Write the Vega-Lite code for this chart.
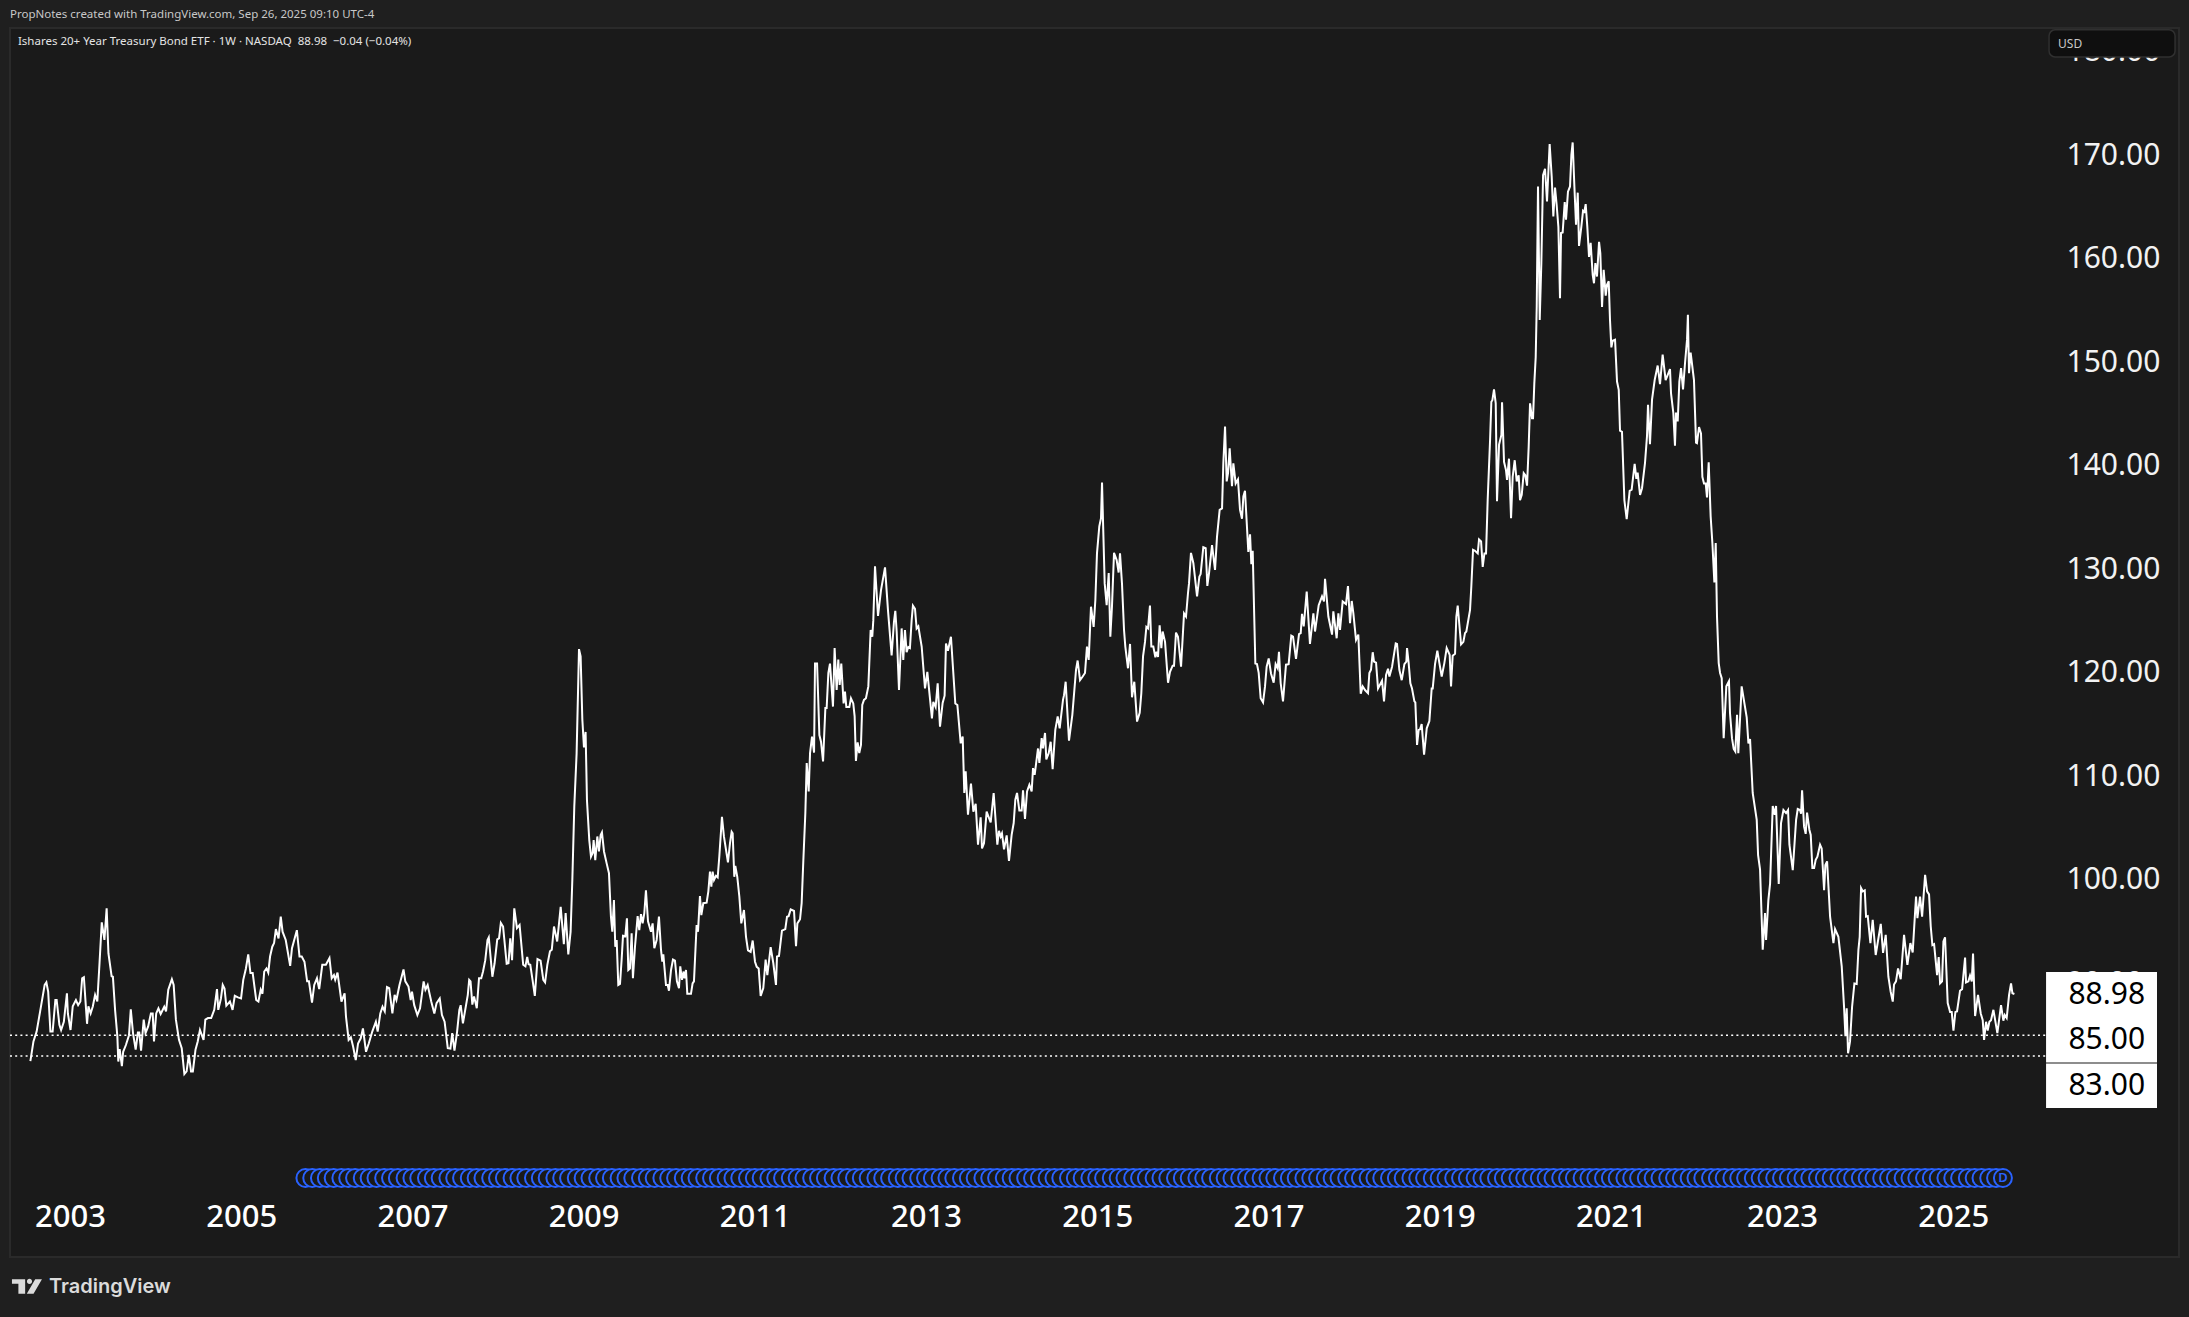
{
"$schema":"https://vega.github.io/schema/vega-lite/v6.json",
"width":2169,"height":1229,
"autosize":{"type":"none"},
"padding":{"left":10,"top":28,"right":10,"bottom":60},
"background":"#1f1f1f",
"view":{"fill":"#1a1a1a","stroke":"#2a2a2a","strokeWidth":2},
"config":{"font":"Noto Sans"},
"datasets":{
"price":[
{"year":2002.537,"price":82.49},{"year":2002.573,"price":84.4},{"year":2002.61,"price":85.35},{"year":2002.651,"price":87.3},{"year":2002.704,"price":89.86},{"year":2002.724,"price":90.1},{"year":2002.745,"price":89.2},{"year":2002.771,"price":85.35},{"year":2002.797,"price":85.35},{"year":2002.829,"price":88.4},{"year":2002.844,"price":88.4},{"year":2002.876,"price":86.0},{"year":2002.896,"price":85.5},{"year":2002.928,"price":86.3},{"year":2002.964,"price":89.05},{"year":2002.975,"price":87.1},
{"year":2003.006,"price":85.5},{"year":2003.032,"price":87.8},{"year":2003.069,"price":88.4},{"year":2003.095,"price":87.9},{"year":2003.121,"price":88.25},{"year":2003.142,"price":90.5},{"year":2003.162,"price":90.6},{"year":2003.199,"price":86.1},{"year":2003.215,"price":87.8},{"year":2003.241,"price":87.1},{"year":2003.267,"price":87.8},{"year":2003.293,"price":88.9},{"year":2003.319,"price":88.25},{"year":2003.345,"price":92.0},{"year":2003.371,"price":95.9},{"year":2003.402,"price":94.2},{"year":2003.428,"price":97.25},{"year":2003.449,"price":92.9},{"year":2003.486,"price":90.7},{"year":2003.501,"price":90.65},{"year":2003.527,"price":87.4},{"year":2003.553,"price":84.9},{"year":2003.564,"price":82.45},{"year":2003.58,"price":83.65},{"year":2003.606,"price":82.0},{"year":2003.621,"price":83.4},{"year":2003.653,"price":84.05},{"year":2003.689,"price":85.0},{"year":2003.71,"price":87.5},{"year":2003.736,"price":85.2},{"year":2003.767,"price":83.6},{"year":2003.793,"price":85.25},{"year":2003.809,"price":85.25},{"year":2003.83,"price":83.5},{"year":2003.861,"price":86.5},{"year":2003.882,"price":85.2},{"year":2003.913,"price":85.85},{"year":2003.945,"price":87.1},{"year":2003.966,"price":87.1},{"year":2003.981,"price":84.4},
{"year":2004.007,"price":87.1},{"year":2004.033,"price":87.6},{"year":2004.059,"price":87.05},{"year":2004.101,"price":87.75},{"year":2004.122,"price":87.3},{"year":2004.148,"price":89.4},{"year":2004.19,"price":90.4},{"year":2004.211,"price":89.85},{"year":2004.237,"price":86.5},{"year":2004.273,"price":84.55},{"year":2004.305,"price":83.75},{"year":2004.336,"price":81.25},{"year":2004.362,"price":81.5},{"year":2004.388,"price":83.1},{"year":2004.414,"price":81.5},{"year":2004.435,"price":81.5},{"year":2004.466,"price":83.6},{"year":2004.492,"price":84.4},{"year":2004.518,"price":85.5},{"year":2004.56,"price":84.55},{"year":2004.581,"price":86.5},{"year":2004.612,"price":86.65},{"year":2004.649,"price":86.65},{"year":2004.685,"price":87.45},{"year":2004.717,"price":89.45},{"year":2004.732,"price":87.45},{"year":2004.763,"price":88.55},{"year":2004.784,"price":89.85},{"year":2004.805,"price":89.5},{"year":2004.826,"price":87.85},{"year":2004.868,"price":88.25},{"year":2004.899,"price":87.45},{"year":2004.925,"price":88.8},{"year":2004.962,"price":88.65},{"year":2004.998,"price":88.55},
{"year":2005.024,"price":90.35},{"year":2005.055,"price":91.45},{"year":2005.082,"price":92.8},{"year":2005.108,"price":91.0},{"year":2005.134,"price":91.0},{"year":2005.175,"price":88.4},{"year":2005.201,"price":88.25},{"year":2005.228,"price":89.4},{"year":2005.248,"price":89.0},{"year":2005.269,"price":91.15},{"year":2005.295,"price":91.45},{"year":2005.316,"price":91.05},{"year":2005.337,"price":92.6},{"year":2005.363,"price":93.55},{"year":2005.384,"price":93.9},{"year":2005.405,"price":95.25},{"year":2005.436,"price":94.35},{"year":2005.462,"price":96.45},{"year":2005.483,"price":95.0},{"year":2005.52,"price":94.2},{"year":2005.572,"price":91.7},{"year":2005.593,"price":93.4},{"year":2005.624,"price":94.35},{"year":2005.65,"price":95.15},{"year":2005.681,"price":92.6},{"year":2005.707,"price":92.6},{"year":2005.739,"price":92.1},{"year":2005.77,"price":90.2},{"year":2005.791,"price":90.2},{"year":2005.827,"price":88.15},{"year":2005.853,"price":89.85},{"year":2005.885,"price":90.5},{"year":2005.911,"price":89.45},{"year":2005.947,"price":91.8},{"year":2005.989,"price":91.8},
{"year":2006.031,"price":92.45},{"year":2006.057,"price":90.5},{"year":2006.083,"price":90.8},{"year":2006.098,"price":90.35},{"year":2006.125,"price":91.05},{"year":2006.171,"price":88.25},{"year":2006.208,"price":89.05},{"year":2006.224,"price":86.8},{"year":2006.255,"price":84.55},{"year":2006.281,"price":84.8},{"year":2006.307,"price":83.9},{"year":2006.338,"price":82.6},{"year":2006.365,"price":84.2},{"year":2006.396,"price":84.7},{"year":2006.422,"price":85.65},{"year":2006.458,"price":83.4},{"year":2006.49,"price":84.2},{"year":2006.531,"price":85.35},{"year":2006.573,"price":86.3},{"year":2006.594,"price":85.35},{"year":2006.625,"price":87.1},{"year":2006.651,"price":87.75},{"year":2006.677,"price":87.3},{"year":2006.703,"price":89.65},{"year":2006.729,"price":89.55},{"year":2006.766,"price":87.1},{"year":2006.792,"price":88.9},{"year":2006.813,"price":88.4},{"year":2006.849,"price":89.85},{"year":2006.896,"price":91.35},{"year":2006.917,"price":90.2},{"year":2006.954,"price":89.7},{"year":2006.98,"price":88.4},{"year":2006.995,"price":89.2},
{"year":2007.021,"price":87.9},{"year":2007.058,"price":86.95},{"year":2007.089,"price":87.6},{"year":2007.131,"price":90.2},{"year":2007.152,"price":89.4},{"year":2007.178,"price":89.85},{"year":2007.22,"price":88.25},{"year":2007.256,"price":87.1},{"year":2007.282,"price":88.1},{"year":2007.319,"price":88.55},{"year":2007.345,"price":86.95},{"year":2007.376,"price":86.3},{"year":2007.413,"price":83.75},{"year":2007.444,"price":83.7},{"year":2007.465,"price":85.2},{"year":2007.491,"price":83.5},{"year":2007.522,"price":85.35},{"year":2007.548,"price":87.45},{"year":2007.564,"price":87.9},{"year":2007.59,"price":86.15},{"year":2007.647,"price":88.9},{"year":2007.663,"price":90.35},{"year":2007.679,"price":90.2},{"year":2007.7,"price":87.95},{"year":2007.72,"price":88.75},{"year":2007.752,"price":87.6},{"year":2007.778,"price":90.5},{"year":2007.804,"price":90.5},{"year":2007.825,"price":91.15},{"year":2007.851,"price":92.25},{"year":2007.877,"price":94.2},{"year":2007.892,"price":94.45},{"year":2007.934,"price":90.65},{"year":2007.96,"price":91.95},{"year":2007.991,"price":94.25},
{"year":2008.012,"price":94.35},{"year":2008.033,"price":95.85},{"year":2008.059,"price":95.5},{"year":2008.101,"price":91.9},{"year":2008.122,"price":91.95},{"year":2008.143,"price":94.35},{"year":2008.164,"price":92.25},{"year":2008.19,"price":97.25},{"year":2008.221,"price":95.35},{"year":2008.252,"price":95.65},{"year":2008.294,"price":91.8},{"year":2008.32,"price":91.65},{"year":2008.341,"price":92.55},{"year":2008.357,"price":91.85},{"year":2008.377,"price":91.8},{"year":2008.404,"price":90.3},{"year":2008.43,"price":88.8},{"year":2008.461,"price":92.35},{"year":2008.497,"price":92.2},{"year":2008.529,"price":90.35},{"year":2008.55,"price":90.1},{"year":2008.576,"price":91.8},{"year":2008.607,"price":93.1},{"year":2008.628,"price":93.25},{"year":2008.654,"price":95.5},{"year":2008.691,"price":94.05},{"year":2008.732,"price":97.4},{"year":2008.769,"price":93.8},{"year":2008.79,"price":96.8},{"year":2008.821,"price":92.8},{"year":2008.848,"price":95.0},{"year":2008.868,"price":100.0},{"year":2008.891,"price":107.1},{"year":2008.918,"price":112.2},{"year":2008.946,"price":122.3},{"year":2008.965,"price":121.6},{"year":2008.985,"price":115.5},
{"year":2009.004,"price":112.8},{"year":2009.023,"price":114.3},{"year":2009.039,"price":107.7},{"year":2009.066,"price":103.85},{"year":2009.086,"price":102.25},{"year":2009.105,"price":102.6},{"year":2009.117,"price":103.85},{"year":2009.136,"price":101.9},{"year":2009.16,"price":104.2},{"year":2009.179,"price":102.75},{"year":2009.199,"price":104.35},{"year":2009.214,"price":104.6},{"year":2009.238,"price":102.75},{"year":2009.269,"price":101.6},{"year":2009.296,"price":100.65},{"year":2009.319,"price":96.45},{"year":2009.335,"price":95.0},{"year":2009.354,"price":98.05},{"year":2009.37,"price":93.55},{"year":2009.386,"price":94.2},{"year":2009.405,"price":89.85},{"year":2009.425,"price":89.95},{"year":2009.444,"price":92.3},{"year":2009.46,"price":94.6},{"year":2009.487,"price":94.55},{"year":2009.506,"price":96.3},{"year":2009.522,"price":91.3},{"year":2009.541,"price":91.45},{"year":2009.561,"price":94.85},{"year":2009.576,"price":90.5},{"year":2009.6,"price":93.55},{"year":2009.631,"price":96.5},{"year":2009.65,"price":95.15},{"year":2009.67,"price":96.7},{"year":2009.689,"price":95.8},{"year":2009.709,"price":96.8},{"year":2009.728,"price":99.0},{"year":2009.752,"price":96.0},{"year":2009.787,"price":95.0},{"year":2009.806,"price":95.8},{"year":2009.826,"price":93.4},{"year":2009.853,"price":94.2},{"year":2009.88,"price":96.45},{"year":2009.904,"price":93.25},{"year":2009.919,"price":92.1},{"year":2009.931,"price":92.8},{"year":2009.962,"price":89.85},{"year":2009.982,"price":89.85},{"year":2009.997,"price":89.3},
{"year":2010.021,"price":91.3},{"year":2010.044,"price":92.3},{"year":2010.067,"price":92.2},{"year":2010.09,"price":90.2},{"year":2010.114,"price":89.55},{"year":2010.129,"price":91.65},{"year":2010.149,"price":90.35},{"year":2010.168,"price":91.15},{"year":2010.18,"price":90.5},{"year":2010.196,"price":91.3},{"year":2010.211,"price":89.0},{"year":2010.254,"price":89.0},{"year":2010.273,"price":90.0},{"year":2010.289,"price":90.2},{"year":2010.32,"price":95.65},{"year":2010.336,"price":95.0},{"year":2010.359,"price":98.45},{"year":2010.375,"price":96.6},{"year":2010.398,"price":97.75},{"year":2010.437,"price":97.8},{"year":2010.457,"price":98.9},{"year":2010.476,"price":100.8},{"year":2010.492,"price":99.35},{"year":2010.507,"price":100.8},{"year":2010.523,"price":100.0},{"year":2010.546,"price":100.4},{"year":2010.566,"price":100.25},{"year":2010.585,"price":102.25},{"year":2010.616,"price":106.1},{"year":2010.639,"price":104.2},{"year":2010.686,"price":101.7},{"year":2010.71,"price":103.55},{"year":2010.729,"price":104.65},{"year":2010.741,"price":104.5},{"year":2010.76,"price":100.3},{"year":2010.772,"price":101.35},{"year":2010.795,"price":100.3},{"year":2010.819,"price":98.4},{"year":2010.842,"price":95.8},{"year":2010.873,"price":97.1},{"year":2010.897,"price":94.5},{"year":2010.92,"price":93.2},{"year":2010.951,"price":93.05},{"year":2010.975,"price":94.15},
{"year":2011.002,"price":92.1},{"year":2011.022,"price":91.6},{"year":2011.045,"price":91.45},{"year":2011.068,"price":88.8},{"year":2011.099,"price":89.55},{"year":2011.126,"price":92.3},{"year":2011.146,"price":90.8},{"year":2011.185,"price":93.5},{"year":2011.216,"price":91.95},{"year":2011.247,"price":89.85},{"year":2011.259,"price":92.6},{"year":2011.282,"price":92.65},{"year":2011.317,"price":95.1},{"year":2011.356,"price":95.25},{"year":2011.376,"price":96.45},{"year":2011.395,"price":96.5},{"year":2011.419,"price":97.15},{"year":2011.458,"price":97.0},{"year":2011.481,"price":93.6},{"year":2011.497,"price":95.8},{"year":2011.528,"price":96.2},{"year":2011.547,"price":97.75},{"year":2011.567,"price":101.95},{"year":2011.59,"price":106.45},{"year":2011.606,"price":111.3},{"year":2011.629,"price":108.55},{"year":2011.645,"price":112.25},{"year":2011.668,"price":113.85},{"year":2011.692,"price":112.3},{"year":2011.703,"price":120.9},{"year":2011.727,"price":120.9},{"year":2011.754,"price":114.0},{"year":2011.773,"price":113.35},{"year":2011.797,"price":111.45},{"year":2011.824,"price":116.6},{"year":2011.839,"price":116.6},{"year":2011.859,"price":120.0},{"year":2011.878,"price":120.9},{"year":2011.913,"price":116.75},{"year":2011.932,"price":122.4},{"year":2011.956,"price":118.35},{"year":2011.975,"price":121.3},{"year":2011.991,"price":118.85},
{"year":2012.01,"price":120.9},{"year":2012.037,"price":117.05},{"year":2012.053,"price":118.2},{"year":2012.069,"price":116.7},{"year":2012.104,"price":116.7},{"year":2012.123,"price":117.55},{"year":2012.15,"price":117.05},{"year":2012.166,"price":115.8},{"year":2012.181,"price":111.5},{"year":2012.201,"price":113.3},{"year":2012.22,"price":112.25},{"year":2012.24,"price":113.05},{"year":2012.255,"price":116.9},{"year":2012.275,"price":117.4},{"year":2012.298,"price":117.55},{"year":2012.326,"price":118.7},{"year":2012.353,"price":124.15},{"year":2012.372,"price":123.5},{"year":2012.384,"price":125.1},{"year":2012.404,"price":130.3},{"year":2012.439,"price":125.5},{"year":2012.474,"price":128.0},{"year":2012.521,"price":130.2},{"year":2012.556,"price":126.0},{"year":2012.598,"price":121.7},{"year":2012.625,"price":124.9},{"year":2012.641,"price":126.0},{"year":2012.657,"price":124.0},{"year":2012.684,"price":118.35},{"year":2012.715,"price":124.3},{"year":2012.734,"price":121.25},{"year":2012.754,"price":124.15},{"year":2012.773,"price":122.0},{"year":2012.793,"price":122.5},{"year":2012.812,"price":122.4},{"year":2012.832,"price":125.1},{"year":2012.847,"price":126.5},{"year":2012.871,"price":126.2},{"year":2012.89,"price":124.3},{"year":2012.91,"price":124.5},{"year":2012.949,"price":122.55},{"year":2012.988,"price":118.5},
{"year":2013.015,"price":120.1},{"year":2013.069,"price":115.6},{"year":2013.085,"price":117.2},{"year":2013.112,"price":116.7},{"year":2013.136,"price":119.0},{"year":2013.163,"price":114.8},{"year":2013.194,"price":117.1},{"year":2013.217,"price":117.8},{"year":2013.233,"price":122.85},{"year":2013.256,"price":122.15},{"year":2013.291,"price":123.5},{"year":2013.342,"price":117.05},{"year":2013.366,"price":116.9},{"year":2013.405,"price":113.2},{"year":2013.428,"price":113.85},{"year":2013.447,"price":108.4},{"year":2013.463,"price":110.5},{"year":2013.49,"price":106.3},{"year":2013.525,"price":109.3},{"year":2013.553,"price":106.6},{"year":2013.58,"price":107.35},{"year":2013.607,"price":103.4},{"year":2013.638,"price":106.05},{"year":2013.654,"price":103.05},{"year":2013.677,"price":103.55},{"year":2013.708,"price":106.6},{"year":2013.755,"price":105.55},{"year":2013.79,"price":108.4},{"year":2013.833,"price":103.4},{"year":2013.852,"price":104.75},{"year":2013.872,"price":104.2},{"year":2013.887,"price":104.5},{"year":2013.911,"price":102.95},{"year":2013.942,"price":104.3},{"year":2013.969,"price":101.85},
{"year":2014.0,"price":104.35},{"year":2014.024,"price":105.5},{"year":2014.043,"price":107.75},{"year":2014.063,"price":108.4},{"year":2014.09,"price":106.7},{"year":2014.117,"price":106.7},{"year":2014.133,"price":108.65},{"year":2014.156,"price":105.9},{"year":2014.18,"price":108.55},{"year":2014.207,"price":109.2},{"year":2014.234,"price":108.55},{"year":2014.25,"price":110.8},{"year":2014.269,"price":110.15},{"year":2014.308,"price":112.7},{"year":2014.324,"price":111.3},{"year":2014.351,"price":113.7},{"year":2014.366,"price":112.7},{"year":2014.39,"price":114.2},{"year":2014.405,"price":111.65},{"year":2014.433,"price":112.25},{"year":2014.456,"price":113.35},{"year":2014.479,"price":110.7},{"year":2014.51,"price":114.5},{"year":2014.538,"price":115.8},{"year":2014.561,"price":114.65},{"year":2014.6,"price":117.4},{"year":2014.612,"price":117.85},{"year":2014.631,"price":119.15},{"year":2014.67,"price":113.45},{"year":2014.709,"price":115.95},{"year":2014.752,"price":120.3},{"year":2014.771,"price":121.2},{"year":2014.799,"price":119.3},{"year":2014.83,"price":119.65},{"year":2014.857,"price":120.0},{"year":2014.88,"price":122.55},{"year":2014.9,"price":121.25},{"year":2014.927,"price":126.4},{"year":2014.958,"price":124.45},{"year":2014.978,"price":127.05},{"year":2014.997,"price":131.55},
{"year":2015.024,"price":134.15},{"year":2015.044,"price":134.95},{"year":2015.056,"price":138.4},{"year":2015.067,"price":134.8},{"year":2015.087,"price":128.65},{"year":2015.11,"price":126.55},{"year":2015.134,"price":129.65},{"year":2015.153,"price":123.5},{"year":2015.172,"price":126.4},{"year":2015.196,"price":131.6},{"year":2015.227,"price":130.9},{"year":2015.25,"price":129.7},{"year":2015.266,"price":131.55},{"year":2015.289,"price":128.65},{"year":2015.313,"price":124.15},{"year":2015.328,"price":122.55},{"year":2015.359,"price":120.45},{"year":2015.383,"price":122.8},{"year":2015.406,"price":117.65},{"year":2015.433,"price":119.15},{"year":2015.465,"price":115.3},{"year":2015.496,"price":116.15},{"year":2015.515,"price":118.05},{"year":2015.535,"price":121.6},{"year":2015.558,"price":123.0},{"year":2015.574,"price":124.45},{"year":2015.593,"price":124.3},{"year":2015.616,"price":126.5},{"year":2015.632,"price":122.55},{"year":2015.655,"price":122.55},{"year":2015.679,"price":121.5},{"year":2015.694,"price":122.05},{"year":2015.71,"price":121.55},{"year":2015.729,"price":124.6},{"year":2015.749,"price":122.4},{"year":2015.764,"price":124.0},{"year":2015.792,"price":123.0},{"year":2015.827,"price":119.05},{"year":2015.85,"price":120.1},{"year":2015.881,"price":120.7},{"year":2015.897,"price":120.7},{"year":2015.92,"price":123.9},{"year":2015.943,"price":123.5},{"year":2015.979,"price":120.6},
{"year":2016.014,"price":125.75},{"year":2016.037,"price":125.45},{"year":2016.06,"price":127.7},{"year":2016.072,"price":128.65},{"year":2016.095,"price":131.6},{"year":2016.123,"price":130.6},{"year":2016.166,"price":127.4},{"year":2016.193,"price":129.3},{"year":2016.208,"price":129.55},{"year":2016.239,"price":132.15},{"year":2016.267,"price":132.05},{"year":2016.286,"price":128.4},{"year":2016.306,"price":129.65},{"year":2016.341,"price":132.35},{"year":2016.376,"price":129.95},{"year":2016.399,"price":133.15},{"year":2016.43,"price":135.75},{"year":2016.458,"price":135.9},{"year":2016.473,"price":140.25},{"year":2016.493,"price":143.8},{"year":2016.512,"price":138.5},{"year":2016.528,"price":139.3},{"year":2016.547,"price":141.7},{"year":2016.574,"price":138.05},{"year":2016.59,"price":140.25},{"year":2016.617,"price":138.3},{"year":2016.644,"price":138.7},{"year":2016.668,"price":135.75},{"year":2016.691,"price":134.9},{"year":2016.707,"price":137.05},{"year":2016.726,"price":137.6},{"year":2016.765,"price":131.7},{"year":2016.785,"price":133.4},{"year":2016.8,"price":130.5},{"year":2016.816,"price":131.8},{"year":2016.847,"price":120.9},{"year":2016.866,"price":120.85},{"year":2016.886,"price":120.0},{"year":2016.909,"price":117.55},{"year":2016.937,"price":117.15},{"year":2016.96,"price":118.7},{"year":2016.979,"price":120.6},
{"year":2017.003,"price":121.4},{"year":2017.03,"price":119.95},{"year":2017.061,"price":119.05},{"year":2017.084,"price":120.85},{"year":2017.108,"price":120.45},{"year":2017.123,"price":122.05},{"year":2017.143,"price":119.0},{"year":2017.17,"price":117.25},{"year":2017.205,"price":120.8},{"year":2017.236,"price":120.85},{"year":2017.267,"price":123.6},{"year":2017.287,"price":123.5},{"year":2017.322,"price":121.35},{"year":2017.357,"price":123.75},{"year":2017.377,"price":123.85},{"year":2017.392,"price":125.7},{"year":2017.412,"price":124.5},{"year":2017.447,"price":127.85},{"year":2017.485,"price":122.8},{"year":2017.525,"price":125.75},{"year":2017.544,"price":124.0},{"year":2017.587,"price":126.55},{"year":2017.626,"price":127.4},{"year":2017.649,"price":126.9},{"year":2017.661,"price":129.1},{"year":2017.7,"price":125.45},{"year":2017.743,"price":123.7},{"year":2017.758,"price":125.95},{"year":2017.797,"price":123.35},{"year":2017.817,"price":125.75},{"year":2017.836,"price":124.15},{"year":2017.867,"price":126.9},{"year":2017.906,"price":126.65},{"year":2017.929,"price":128.4},{"year":2017.953,"price":124.8},{"year":2017.973,"price":126.95},{"year":2017.992,"price":125.75},
{"year":2018.023,"price":123.2},{"year":2018.05,"price":123.7},{"year":2018.078,"price":118.0},{"year":2018.101,"price":118.7},{"year":2018.128,"price":118.35},{"year":2018.163,"price":118.05},{"year":2018.179,"price":120.0},{"year":2018.198,"price":120.3},{"year":2018.218,"price":122.0},{"year":2018.233,"price":121.1},{"year":2018.257,"price":121.0},{"year":2018.28,"price":118.5},{"year":2018.327,"price":119.25},{"year":2018.35,"price":117.25},{"year":2018.374,"price":119.8},{"year":2018.397,"price":120.4},{"year":2018.413,"price":119.65},{"year":2018.444,"price":120.6},{"year":2018.487,"price":122.85},{"year":2018.502,"price":122.8},{"year":2018.529,"price":120.3},{"year":2018.557,"price":119.3},{"year":2018.588,"price":120.85},{"year":2018.611,"price":121.1},{"year":2018.619,"price":122.4},{"year":2018.638,"price":120.95},{"year":2018.658,"price":119.0},{"year":2018.677,"price":118.5},{"year":2018.705,"price":117.25},{"year":2018.716,"price":117.15},{"year":2018.736,"price":113.05},{"year":2018.755,"price":114.5},{"year":2018.771,"price":114.55},{"year":2018.79,"price":115.05},{"year":2018.818,"price":112.1},{"year":2018.849,"price":114.65},{"year":2018.88,"price":115.35},{"year":2018.907,"price":118.5},{"year":2018.919,"price":118.5},{"year":2018.946,"price":120.85},{"year":2018.973,"price":122.15},{"year":2018.997,"price":120.95},
{"year":2019.024,"price":119.65},{"year":2019.055,"price":120.95},{"year":2019.082,"price":122.4},{"year":2019.117,"price":121.75},{"year":2019.133,"price":118.7},{"year":2019.152,"price":121.65},{"year":2019.18,"price":121.85},{"year":2019.195,"price":125.45},{"year":2019.211,"price":126.5},{"year":2019.25,"price":122.75},{"year":2019.277,"price":123.0},{"year":2019.296,"price":123.85},{"year":2019.312,"price":124.0},{"year":2019.355,"price":126.1},{"year":2019.37,"price":128.35},{"year":2019.39,"price":131.9},{"year":2019.413,"price":131.8},{"year":2019.445,"price":131.55},{"year":2019.46,"price":132.9},{"year":2019.484,"price":132.7},{"year":2019.503,"price":130.25},{"year":2019.523,"price":131.55},{"year":2019.542,"price":131.55},{"year":2019.561,"price":136.7},{"year":2019.589,"price":142.5},{"year":2019.604,"price":146.2},{"year":2019.616,"price":146.35},{"year":2019.635,"price":147.4},{"year":2019.655,"price":146.05},{"year":2019.67,"price":136.6},{"year":2019.694,"price":142.05},{"year":2019.721,"price":143.0},{"year":2019.729,"price":146.15},{"year":2019.752,"price":140.4},{"year":2019.775,"price":139.6},{"year":2019.787,"price":138.65},{"year":2019.81,"price":140.7},{"year":2019.834,"price":134.95},{"year":2019.853,"price":138.95},{"year":2019.877,"price":140.55},{"year":2019.9,"price":138.5},{"year":2019.923,"price":139.1},{"year":2019.939,"price":136.7},{"year":2019.959,"price":137.2},{"year":2019.982,"price":139.3},
{"year":2020.001,"price":139.1},{"year":2020.021,"price":138.1},{"year":2020.04,"price":141.85},{"year":2020.056,"price":146.05},{"year":2020.079,"price":144.6},{"year":2020.091,"price":144.6},{"year":2020.106,"price":148.0},{"year":2020.122,"price":150.5},{"year":2020.134,"price":155.4},{"year":2020.149,"price":167.0},{"year":2020.169,"price":154.1},{"year":2020.188,"price":159.6},{"year":2020.208,"price":168.1},{"year":2020.231,"price":168.7},{"year":2020.254,"price":165.55},{"year":2020.285,"price":171.1},{"year":2020.309,"price":167.95},{"year":2020.328,"price":164.1},{"year":2020.348,"price":166.9},{"year":2020.367,"price":165.2},{"year":2020.387,"price":163.1},{"year":2020.406,"price":156.2},{"year":2020.418,"price":162.5},{"year":2020.437,"price":162.55},{"year":2020.461,"price":165.5},{"year":2020.476,"price":163.8},{"year":2020.499,"price":166.5},{"year":2020.523,"price":167.0},{"year":2020.539,"price":170.05},{"year":2020.554,"price":171.25},{"year":2020.574,"price":167.0},{"year":2020.593,"price":163.3},{"year":2020.613,"price":166.4},{"year":2020.628,"price":161.25},{"year":2020.655,"price":163.1},{"year":2020.675,"price":164.65},{"year":2020.69,"price":164.55},{"year":2020.706,"price":165.3},{"year":2020.725,"price":163.1},{"year":2020.745,"price":160.2},{"year":2020.764,"price":161.55},{"year":2020.788,"price":158.45},{"year":2020.803,"price":157.65},{"year":2020.819,"price":159.6},{"year":2020.838,"price":158.3},{"year":2020.862,"price":161.65},{"year":2020.877,"price":160.55},{"year":2020.897,"price":155.35},{"year":2020.916,"price":158.95},{"year":2020.94,"price":156.45},{"year":2020.955,"price":157.5},{"year":2020.975,"price":157.85},{"year":2020.99,"price":154.1},
{"year":2021.006,"price":151.45},{"year":2021.021,"price":152.1},{"year":2021.049,"price":152.2},{"year":2021.072,"price":148.15},{"year":2021.092,"price":147.35},{"year":2021.107,"price":143.4},{"year":2021.13,"price":143.3},{"year":2021.158,"price":136.7},{"year":2021.185,"price":134.85},{"year":2021.22,"price":137.6},{"year":2021.243,"price":137.7},{"year":2021.278,"price":140.2},{"year":2021.298,"price":138.75},{"year":2021.313,"price":139.35},{"year":2021.341,"price":137.2},{"year":2021.364,"price":137.85},{"year":2021.399,"price":140.3},{"year":2021.422,"price":142.85},{"year":2021.434,"price":145.9},{"year":2021.457,"price":142.1},{"year":2021.481,"price":146.4},{"year":2021.512,"price":148.3},{"year":2021.547,"price":149.7},{"year":2021.574,"price":147.9},{"year":2021.605,"price":150.75},{"year":2021.64,"price":148.3},{"year":2021.691,"price":149.35},{"year":2021.703,"price":147.0},{"year":2021.73,"price":145.1},{"year":2021.749,"price":141.95},{"year":2021.761,"price":145.15},{"year":2021.781,"price":144.3},{"year":2021.8,"price":148.15},{"year":2021.82,"price":149.45},{"year":2021.843,"price":147.4},{"year":2021.866,"price":149.9},{"year":2021.89,"price":152.2},{"year":2021.9,"price":154.6},{"year":2021.913,"price":148.95},{"year":2021.932,"price":150.95},{"year":2021.971,"price":148.3},{"year":2021.995,"price":142.25},
{"year":2022.006,"price":142.2},{"year":2022.03,"price":143.75},{"year":2022.053,"price":143.15},{"year":2022.069,"price":138.95},{"year":2022.088,"price":138.3},{"year":2022.108,"price":138.3},{"year":2022.123,"price":136.95},{"year":2022.143,"price":140.35},{"year":2022.166,"price":135.1},{"year":2022.186,"price":132.55},{"year":2022.209,"price":128.75},{"year":2022.225,"price":132.55},{"year":2022.24,"price":125.45},{"year":2022.26,"price":120.95},{"year":2022.276,"price":120.0},{"year":2022.295,"price":119.5},{"year":2022.318,"price":113.7},{"year":2022.349,"price":118.7},{"year":2022.38,"price":119.2},{"year":2022.392,"price":116.1},{"year":2022.415,"price":113.7},{"year":2022.435,"price":112.65},{"year":2022.454,"price":112.4},{"year":2022.474,"price":115.95},{"year":2022.489,"price":112.25},{"year":2022.528,"price":118.7},{"year":2022.587,"price":115.7},{"year":2022.607,"price":113.2},{"year":2022.626,"price":113.6},{"year":2022.657,"price":108.4},{"year":2022.704,"price":105.8},{"year":2022.72,"price":102.4},{"year":2022.743,"price":101.0},{"year":2022.774,"price":93.25},{"year":2022.801,"price":96.8},{"year":2022.813,"price":94.2},{"year":2022.84,"price":98.05},{"year":2022.86,"price":99.65},{"year":2022.891,"price":107.15},{"year":2022.914,"price":106.3},{"year":2022.93,"price":107.15},{"year":2022.961,"price":99.6},{"year":2022.988,"price":105.5},
{"year":2023.016,"price":106.75},{"year":2023.047,"price":106.45},{"year":2023.07,"price":106.75},{"year":2023.086,"price":103.4},{"year":2023.125,"price":100.95},{"year":2023.164,"price":105.8},{"year":2023.183,"price":106.85},{"year":2023.21,"price":106.75},{"year":2023.222,"price":106.4},{"year":2023.234,"price":108.65},{"year":2023.257,"price":105.15},{"year":2023.276,"price":104.45},{"year":2023.292,"price":106.5},{"year":2023.319,"price":104.85},{"year":2023.335,"price":104.35},{"year":2023.354,"price":101.15},{"year":2023.374,"price":101.15},{"year":2023.393,"price":101.95},{"year":2023.413,"price":102.25},{"year":2023.444,"price":103.4},{"year":2023.463,"price":103.05},{"year":2023.491,"price":99.0},{"year":2023.506,"price":101.45},{"year":2023.526,"price":101.8},{"year":2023.561,"price":96.45},{"year":2023.6,"price":93.9},{"year":2023.619,"price":95.25},{"year":2023.658,"price":94.5},{"year":2023.697,"price":91.65},{"year":2023.724,"price":87.75},{"year":2023.74,"price":84.9},{"year":2023.755,"price":87.6},{"year":2023.771,"price":83.25},{"year":2023.794,"price":84.4},{"year":2023.818,"price":87.75},{"year":2023.845,"price":90.0},{"year":2023.872,"price":89.95},{"year":2023.892,"price":93.25},{"year":2023.907,"price":94.5},{"year":2023.923,"price":99.2},{"year":2023.942,"price":98.9},{"year":2023.966,"price":99.0},{"year":2023.981,"price":96.45},
{"year":2024.001,"price":96.5},{"year":2024.032,"price":93.9},{"year":2024.059,"price":96.15},{"year":2024.094,"price":92.75},{"year":2024.153,"price":95.75},{"year":2024.18,"price":92.95},{"year":2024.211,"price":94.7},{"year":2024.242,"price":90.65},{"year":2024.269,"price":89.2},{"year":2024.293,"price":88.25},{"year":2024.308,"price":89.9},{"year":2024.331,"price":90.2},{"year":2024.355,"price":91.45},{"year":2024.386,"price":90.4},{"year":2024.425,"price":94.7},{"year":2024.464,"price":91.8},{"year":2024.499,"price":93.9},{"year":2024.526,"price":93.0},{"year":2024.565,"price":98.4},{"year":2024.581,"price":96.3},{"year":2024.612,"price":98.4},{"year":2024.636,"price":96.45},{"year":2024.671,"price":100.5},{"year":2024.694,"price":98.9},{"year":2024.717,"price":98.6},{"year":2024.737,"price":95.5},{"year":2024.756,"price":93.7},{"year":2024.776,"price":93.8},{"year":2024.811,"price":90.8},{"year":2024.83,"price":92.55},{"year":2024.846,"price":90.0},{"year":2024.869,"price":90.2},{"year":2024.885,"price":94.05},{"year":2024.904,"price":94.45},{"year":2024.935,"price":88.1},{"year":2024.963,"price":87.25},{"year":2024.982,"price":87.25},
{"year":2025.002,"price":85.45},{"year":2025.025,"price":87.25},{"year":2025.044,"price":87.3},{"year":2025.079,"price":89.3},{"year":2025.103,"price":89.45},{"year":2025.138,"price":92.5},{"year":2025.149,"price":90.1},{"year":2025.177,"price":90.2},{"year":2025.196,"price":90.75},{"year":2025.216,"price":90.2},{"year":2025.231,"price":92.9},{"year":2025.255,"price":86.85},{"year":2025.289,"price":88.9},{"year":2025.321,"price":87.1},{"year":2025.344,"price":86.45},{"year":2025.36,"price":84.55},{"year":2025.383,"price":86.3},{"year":2025.402,"price":85.45},{"year":2025.422,"price":86.3},{"year":2025.441,"price":86.45},{"year":2025.469,"price":87.45},{"year":2025.515,"price":85.2},{"year":2025.558,"price":87.9},{"year":2025.585,"price":86.4},{"year":2025.601,"price":86.95},{"year":2025.624,"price":86.65},{"year":2025.652,"price":88.9},{"year":2025.675,"price":90.0},{"year":2025.691,"price":89.05},{"year":2025.714,"price":88.98}
],
"dividends":[
{"year":2005.75},{"year":2005.83},{"year":2005.92},
{"year":2006.0},{"year":2006.08},{"year":2006.17},{"year":2006.25},{"year":2006.33},{"year":2006.42},{"year":2006.5},{"year":2006.58},{"year":2006.67},{"year":2006.75},{"year":2006.83},{"year":2006.92},
{"year":2007.0},{"year":2007.08},{"year":2007.17},{"year":2007.25},{"year":2007.33},{"year":2007.42},{"year":2007.5},{"year":2007.58},{"year":2007.67},{"year":2007.75},{"year":2007.83},{"year":2007.92},
{"year":2008.0},{"year":2008.08},{"year":2008.17},{"year":2008.25},{"year":2008.33},{"year":2008.42},{"year":2008.5},{"year":2008.58},{"year":2008.67},{"year":2008.75},{"year":2008.83},{"year":2008.92},
{"year":2009.0},{"year":2009.08},{"year":2009.17},{"year":2009.25},{"year":2009.33},{"year":2009.42},{"year":2009.5},{"year":2009.58},{"year":2009.67},{"year":2009.75},{"year":2009.83},{"year":2009.92},
{"year":2010.0},{"year":2010.08},{"year":2010.17},{"year":2010.25},{"year":2010.33},{"year":2010.42},{"year":2010.5},{"year":2010.58},{"year":2010.67},{"year":2010.75},{"year":2010.83},{"year":2010.92},
{"year":2011.0},{"year":2011.08},{"year":2011.17},{"year":2011.25},{"year":2011.33},{"year":2011.42},{"year":2011.5},{"year":2011.58},{"year":2011.67},{"year":2011.75},{"year":2011.83},{"year":2011.92},
{"year":2012.0},{"year":2012.08},{"year":2012.17},{"year":2012.25},{"year":2012.33},{"year":2012.42},{"year":2012.5},{"year":2012.58},{"year":2012.67},{"year":2012.75},{"year":2012.83},{"year":2012.92},
{"year":2013.0},{"year":2013.08},{"year":2013.17},{"year":2013.25},{"year":2013.33},{"year":2013.42},{"year":2013.5},{"year":2013.58},{"year":2013.67},{"year":2013.75},{"year":2013.83},{"year":2013.92},
{"year":2014.0},{"year":2014.08},{"year":2014.17},{"year":2014.25},{"year":2014.33},{"year":2014.42},{"year":2014.5},{"year":2014.58},{"year":2014.67},{"year":2014.75},{"year":2014.83},{"year":2014.92},
{"year":2015.0},{"year":2015.08},{"year":2015.17},{"year":2015.25},{"year":2015.33},{"year":2015.42},{"year":2015.5},{"year":2015.58},{"year":2015.67},{"year":2015.75},{"year":2015.83},{"year":2015.92},
{"year":2016.0},{"year":2016.08},{"year":2016.17},{"year":2016.25},{"year":2016.33},{"year":2016.42},{"year":2016.5},{"year":2016.58},{"year":2016.67},{"year":2016.75},{"year":2016.83},{"year":2016.92},
{"year":2017.0},{"year":2017.08},{"year":2017.17},{"year":2017.25},{"year":2017.33},{"year":2017.42},{"year":2017.5},{"year":2017.58},{"year":2017.67},{"year":2017.75},{"year":2017.83},{"year":2017.92},
{"year":2018.0},{"year":2018.08},{"year":2018.17},{"year":2018.25},{"year":2018.33},{"year":2018.42},{"year":2018.5},{"year":2018.58},{"year":2018.67},{"year":2018.75},{"year":2018.83},{"year":2018.92},
{"year":2019.0},{"year":2019.08},{"year":2019.17},{"year":2019.25},{"year":2019.33},{"year":2019.42},{"year":2019.5},{"year":2019.58},{"year":2019.67},{"year":2019.75},{"year":2019.83},{"year":2019.92},
{"year":2020.0},{"year":2020.08},{"year":2020.17},{"year":2020.25},{"year":2020.33},{"year":2020.42},{"year":2020.5},{"year":2020.58},{"year":2020.67},{"year":2020.75},{"year":2020.83},{"year":2020.92},
{"year":2021.0},{"year":2021.08},{"year":2021.17},{"year":2021.25},{"year":2021.33},{"year":2021.42},{"year":2021.5},{"year":2021.58},{"year":2021.67},{"year":2021.75},{"year":2021.83},{"year":2021.92},
{"year":2022.0},{"year":2022.08},{"year":2022.17},{"year":2022.25},{"year":2022.33},{"year":2022.42},{"year":2022.5},{"year":2022.58},{"year":2022.67},{"year":2022.75},{"year":2022.83},{"year":2022.92},
{"year":2023.0},{"year":2023.08},{"year":2023.17},{"year":2023.25},{"year":2023.33},{"year":2023.42},{"year":2023.5},{"year":2023.58},{"year":2023.67},{"year":2023.75},{"year":2023.83},{"year":2023.92},
{"year":2024.0},{"year":2024.08},{"year":2024.17},{"year":2024.25},{"year":2024.33},{"year":2024.42},{"year":2024.5},{"year":2024.58},{"year":2024.67},{"year":2024.75},{"year":2024.83},{"year":2024.92},
{"year":2025.0},{"year":2025.08},{"year":2025.17},{"year":2025.25},{"year":2025.33},{"year":2025.42},{"year":2025.5},{"year":2025.58}
],
"levels":[{"level":85},{"level":83}],
"one":[{"n":1}]
},
"layer":[
{
"data":{"name":"price"},
"mark":{"type":"line","stroke":"#ffffff","strokeWidth":2,"interpolate":"linear"},
"encoding":{
"x":{"field":"year","type":"quantitative","title":null,
"scale":{"domain":[2002.299,2027.637],"nice":false,"zero":false},
"axis":{"title":null,"values":[2003,2005,2007,2009,2011,2013,2015,2017,2019,2021,2023,2025],"format":"d","grid":false,"domain":false,"ticks":false,"offset":-40,"labelPadding":0,"labelBaseline":"middle","labelFontSize":31,"labelFontWeight":500,"labelFont":"Noto Sans","labelColor":"#ffffff","labelOverlap":false,"labelFlush":false,"labelBound":false}},
"y":{"field":"price","type":"quantitative","title":null,
"scale":{"domain":[63.57,182.31],"nice":false,"zero":false},
"axis":{"title":null,"orient":"right","values":[90,100,110,120,130,140,150,160,170,180],"format":".2f","grid":false,"domain":false,"ticks":false,"offset":-113,"labelPadding":0,"labelAlign":"left","labelBaseline":"middle","labelFontSize":30,"labelFont":"Noto Sans","labelColor":"#f2f2f2","labelOverlap":false,"labelFlush":false,"labelBound":false}}
}
},
{
"data":{"name":"levels"},
"mark":{"type":"rule","stroke":"#ffffff","strokeWidth":1.5,"strokeDash":[2,3.2]},
"encoding":{
"y":{"field":"level","type":"quantitative","title":null},
"x":{"datum":2002.299,"type":"quantitative","title":null},
"x2":{"datum":2026.084}
}
},
{
"data":{"name":"dividends"},
"mark":{"type":"point","shape":"circle","fill":"#1a1a1a","stroke":"#2962ff","strokeWidth":2,"size":324,"opacity":1},
"encoding":{
"x":{"field":"year","type":"quantitative","title":null},
"y":{"datum":71.2,"type":"quantitative","title":null}
}
},
{
"data":{"values":[{"label":"D"}]},
"mark":{"type":"text","color":"#2962ff","fontSize":13,"fontWeight":600,"align":"center","baseline":"middle"},
"encoding":{
"x":{"datum":2025.58,"type":"quantitative","title":null},
"y":{"datum":71.2,"type":"quantitative","title":null},
"text":{"field":"label"}
}
},
{
"data":{"name":"one"},
"mark":{"type":"rect","fill":"#0f0f0f","stroke":"#303030","strokeWidth":1.5,"cornerRadius":6},
"encoding":{
"x":{"datum":2026.119,"type":"quantitative","title":null},"x2":{"datum":2027.591},
"y":{"datum":182.13,"type":"quantitative","title":null},"y2":{"datum":179.52}
}
},
{
"data":{"values":[{"label":"USD"}]},
"mark":{"type":"text","color":"#c8c8c8","fontSize":12,"align":"left","baseline":"middle"},
"encoding":{
"x":{"datum":2026.224,"type":"quantitative","title":null},
"y":{"datum":180.77,"type":"quantitative","title":null},
"text":{"field":"label"}
}
},
{
"data":{"name":"one"},
"mark":{"type":"rect","fill":"#ffffff"},
"encoding":{
"x":{"datum":2026.084,"type":"quantitative","title":null},"x2":{"datum":2027.38},
"y":{"datum":91.11,"type":"quantitative","title":null},"y2":{"datum":82.37}
}
},
{
"data":{"name":"one"},
"mark":{"type":"rect","fill":"#ffffff"},
"encoding":{
"x":{"datum":2026.084,"type":"quantitative","title":null},"x2":{"datum":2027.38},
"y":{"datum":82.27,"type":"quantitative","title":null},"y2":{"datum":77.97}
}
},
{
"data":{"values":[{"label":"88.98"}]},
"mark":{"type":"text","color":"#000000","fontSize":30,"align":"right","baseline":"middle"},
"encoding":{
"x":{"datum":2027.241,"type":"quantitative","title":null},
"y":{"datum":88.89,"type":"quantitative","title":null},
"text":{"field":"label"}
}
},
{
"data":{"values":[{"label":"85.00"}]},
"mark":{"type":"text","color":"#000000","fontSize":30,"align":"right","baseline":"middle"},
"encoding":{
"x":{"datum":2027.241,"type":"quantitative","title":null},
"y":{"datum":84.54,"type":"quantitative","title":null},
"text":{"field":"label"}
}
},
{
"data":{"values":[{"label":"83.00"}]},
"mark":{"type":"text","color":"#000000","fontSize":30,"align":"right","baseline":"middle"},
"encoding":{
"x":{"datum":2027.241,"type":"quantitative","title":null},
"y":{"datum":80.1,"type":"quantitative","title":null},
"text":{"field":"label"}
}
},
{
"data":{"values":[{"label":"PropNotes created with TradingView.com, Sep 26, 2025 09:10 UTC-4"}]},
"mark":{"type":"text","color":"#c8c8c8","fontSize":11.5,"align":"left","baseline":"middle"},
"encoding":{
"x":{"datum":2002.299,"type":"quantitative","title":null},
"y":{"datum":183.6,"type":"quantitative","title":null},
"text":{"field":"label"}
}
},
{
"data":{"values":[{"label":"Ishares 20+ Year Treasury Bond ETF · 1W · NASDAQ\u00a0\u00a088.98\u00a0\u00a0−0.04 (−0.04%)"}]},
"mark":{"type":"text","color":"#e4e4e4","fontSize":11.5,"align":"left","baseline":"middle"},
"encoding":{
"x":{"datum":2002.392,"type":"quantitative","title":null},
"y":{"datum":180.97,"type":"quantitative","title":null},
"text":{"field":"label"}
}
},
{
"data":{"name":"one"},
"mark":{"type":"point","filled":true,"opacity":1,"color":"#dbdbdb","size":900,"shape":"M-1,-0.49 L-0.12,-0.49 L-0.12,0.49 L-0.57,0.49 L-0.57,-0.18 L-1,-0.18 Z M0.34,-0.34 A0.17,0.17 0 1 1 0,-0.34 A0.17,0.17 0 1 1 0.34,-0.34 Z M0.55,-0.49 L1,-0.49 L0.44,0.49 L-0.01,0.49 Z"},
"encoding":{
"x":{"datum":2002.497,"type":"quantitative","title":null},
"y":{"datum":60.72,"type":"quantitative","title":null}
}
},
{
"data":{"values":[{"label":"TradingView"}]},
"mark":{"type":"text","color":"#dbdbdb","fontSize":20,"fontWeight":600,"font":"Inter","align":"left","baseline":"middle"},
"encoding":{
"x":{"datum":2002.754,"type":"quantitative","title":null},
"y":{"datum":60.68,"type":"quantitative","title":null},
"text":{"field":"label"}
}
}
]
}
